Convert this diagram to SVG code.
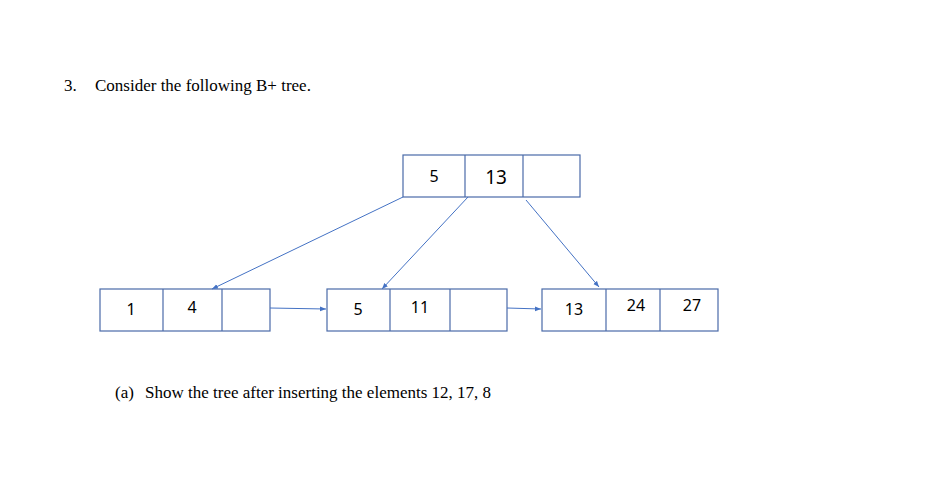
<svg xmlns="http://www.w3.org/2000/svg" width="933" height="485" viewBox="0 0 933 485">
<style>
.t{font-family:"Liberation Serif",serif;font-size:17px;fill:#000}
.n{font-family:"Noto Sans","Open Sans",sans-serif;font-size:16px;fill:#000;text-anchor:middle}
.b{fill:#fff;stroke:#4a6aa8;stroke-width:1.2}
.c{stroke:#4472c4;stroke-width:1;fill:none;marker-end:url(#a)}
</style>
<defs><marker id="a" viewBox="0 0 10 10" refX="10" refY="5" markerWidth="6" markerHeight="6" orient="auto"><path d="M0,1L10,5L0,9z" fill="#4472c4"/></marker></defs>
<rect width="933" height="485" fill="#fff"/>
<text class="t" x="64" y="91">3.</text>
<text class="t" x="95" y="91">Consider the following B+ tree.</text>
<text class="t" x="115" y="398">(a)</text>
<text class="t" x="145" y="398">Show the tree after inserting the elements 12, 17, 8</text>
<g id="root"><rect class="b" x="403" y="155" width="177" height="42"/><line class="b" x1="465" y1="155" x2="465" y2="197"/><line class="b" x1="523" y1="155" x2="523" y2="197"/><text class="n" x="434" y="182">5</text><text class="n" x="496" y="184" style="font-size:19px">13</text></g>
<g id="leaf1"><rect class="b" x="100" y="289" width="170" height="42"/><line class="b" x1="163" y1="289" x2="163" y2="331"/><line class="b" x1="222" y1="289" x2="222" y2="331"/><text class="n" x="131" y="315">1</text><text class="n" x="192" y="313">4</text></g>
<g id="leaf2"><rect class="b" x="327" y="289" width="180" height="42"/><line class="b" x1="390" y1="289" x2="390" y2="331"/><line class="b" x1="450" y1="289" x2="450" y2="331"/><text class="n" x="358" y="315">5</text><text class="n" x="420" y="313">11</text></g>
<g id="leaf3"><rect class="b" x="542" y="289" width="176" height="42"/><line class="b" x1="606" y1="289" x2="606" y2="331"/><line class="b" x1="660" y1="289" x2="660" y2="331"/><text class="n" x="574" y="315">13</text><text class="n" x="636" y="311">24</text><text class="n" x="692" y="311">27</text></g>
<g id="connectors">
<line class="c" x1="403" y1="197" x2="212" y2="289"/>
<line class="c" x1="468" y1="197" x2="382" y2="289"/>
<line class="c" x1="526" y1="200" x2="599" y2="287"/>
<line class="c" x1="270" y1="308" x2="326" y2="309"/>
<line class="c" x1="507" y1="308" x2="541" y2="309"/>
</g>
</svg>
